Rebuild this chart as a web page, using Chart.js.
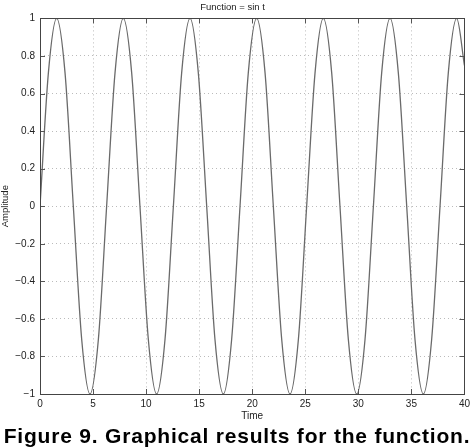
<!DOCTYPE html>
<html>
<head>
<meta charset="utf-8">
<script src="https://cdn.jsdelivr.net/npm/chart.js@4.4.1/dist/chart.umd.min.js"></script>
<style>
  html, body { margin: 0; padding: 0; background: #fff; }
  #wrap { position: relative; width: 474px; height: 448px; }
  #caption {
    position: absolute; left: 0; top: 424px; width: 474px;
    text-align: center; white-space: nowrap;
    font: bold 21px "Liberation Sans", Arial, Helvetica, sans-serif;
    letter-spacing: 0.8px; color: #000;
  }
</style>
</head>
<body>
<div id="wrap">
  <canvas id="chart" width="474" height="448"></canvas>
  <div id="caption">Figure 9. Graphical results for the function.</div>
</div>
<script>
'use strict';

// Samples (time, amplitude)
const timeValues = [
    0, 0.79, 1.57, 2.36, 3.14, 3.93, 4.71, 5.50, 6.28, 7.07,
    7.85, 8.64, 9.42, 10.21, 10.99, 11.78, 12.57, 13.35, 14.14, 14.92,
    15.71, 16.49, 17.28, 18.06, 18.85, 19.63, 20.42, 21.21, 21.99, 22.78,
    23.56, 24.35, 25.13, 25.92, 26.70, 27.49, 28.27, 29.06, 29.85, 30.63,
    31.42, 32.20, 32.99, 33.77, 34.56, 35.34, 36.13, 36.91, 37.70, 38.48,
    39.27, 40
];
const amplitudeValues = [
    0, 0.71, 1, 0.71, 0, -0.71, -1, -0.71, 0, 0.71,
    1, 0.71, 0, -0.71, -1, -0.71, 0, 0.71, 1, 0.71,
    0, -0.71, -1, -0.71, 0, 0.71, 1, 0.71, 0, -0.71,
    -1, -0.71, 0, 0.71, 1, 0.71, 0, -0.71, -1, -0.71,
    0, 0.71, 1, 0.71, 0, -0.71, -1, -0.71, 0, 0.71,
    1, 0.75
];
const xTicks = [0, 5, 10, 15, 20, 25, 30, 35, 40];
const yTicks = [-1, -0.8, -0.6, -0.4, -0.2, 0, 0.2, 0.4, 0.6, 0.8, 1];

const FONT = '"Liberation Sans", Arial, Helvetica, sans-serif';

// MATLAB style box with inward tick marks
const boxPlugin = {
    id: 'box',
    afterDatasetsDraw(chart) {
        const { ctx, chartArea: a, scales } = chart;
        ctx.save();
        ctx.strokeStyle = '#555';
        ctx.lineWidth = 1;
        ctx.beginPath();
        xTicks.forEach(v => {
            const px = Math.round(scales.x.getPixelForValue(v)) + 0.5;
            ctx.moveTo(px, a.bottom); ctx.lineTo(px, a.bottom - 5);
            ctx.moveTo(px, a.top); ctx.lineTo(px, a.top + 5);
        });
        yTicks.forEach(v => {
            const py = Math.round(scales.y.getPixelForValue(v)) + 0.5;
            ctx.moveTo(a.left, py); ctx.lineTo(a.left + 5, py);
            ctx.moveTo(a.right, py); ctx.lineTo(a.right - 5, py);
        });
        ctx.stroke();
        ctx.strokeStyle = '#444';
        ctx.strokeRect(Math.round(a.left) + 0.5, Math.round(a.top) + 0.5,
            Math.round(a.right - a.left), Math.round(a.bottom - a.top));
        ctx.restore();
    }
};

const points = timeValues.map((t, i) => ({ x: t, y: amplitudeValues[i] }));

new Chart(document.getElementById('chart'), {
    type: 'line',
    data: {
        datasets: [{
            data: points,
            borderColor: '#6a6a6a',
            borderWidth: 1.3,
            pointRadius: 0,
            fill: false,
            cubicInterpolationMode: 'monotone'
        }]
    },
    options: {
        responsive: false,
        animation: false,
        layout: { padding: { left: 0, right: 9, top: 2, bottom: 26 } },
        plugins: {
            legend: { display: false },
            tooltip: { enabled: false },
            title: {
                display: true,
                text: 'Function = sin t',
                color: '#222',
                font: { family: FONT, size: 9.5, weight: 'normal' },
                padding: { top: 0, bottom: 5 }
            }
        },
        scales: {
            x: {
                type: 'linear',
                min: 0,
                max: 40,
                afterBuildTicks: s => { s.ticks = xTicks.map(v => ({ value: v })); },
                ticks: {
                    color: '#222',
                    font: { family: FONT, size: 10 },
                    padding: 4,
                    maxRotation: 0
                },
                grid: { color: '#bbb', drawTicks: false },
                border: { display: false, dash: [1, 3] },
                title: {
                    display: true,
                    text: 'Time',
                    color: '#222',
                    font: { family: FONT, size: 10 },
                    padding: { top: -4, bottom: 0 }
                }
            },
            y: {
                min: -1,
                max: 1,
                afterBuildTicks: s => { s.ticks = yTicks.map(v => ({ value: v })); },
                afterFit: s => { s.width = 40; },
                ticks: {
                    color: '#222',
                    font: { family: FONT, size: 10 },
                    padding: 5,
                    callback: v => (v < 0 ? '\u2212' : '') + String(Math.abs(Math.round(v * 10) / 10))
                },
                grid: { color: '#bbb', drawTicks: false },
                border: { display: false, dash: [1, 3] },
                title: {
                    display: true,
                    text: 'Amplitude',
                    color: '#222',
                    font: { family: FONT, size: 9.5 },
                    padding: { top: 0, bottom: 0 }
                }
            }
        }
    },
    plugins: [boxPlugin]
});
</script>
</body>
</html>
